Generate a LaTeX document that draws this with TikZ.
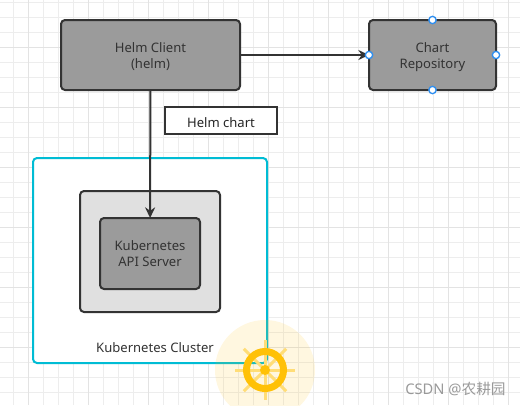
\documentclass[tikz,border=0pt]{standalone}
\usepackage{fontspec}
\setmainfont{Noto Sans}
\newfontfamily\cjkfont{Noto Sans CJK SC}
\usetikzlibrary{positioning,arrows.meta}
\definecolor{inkgray}{HTML}{333333}
\definecolor{boxgray}{HTML}{9B9B9B}
\definecolor{panelgray}{HTML}{E0E0E0}
\definecolor{clustercyan}{HTML}{00BCD4}
\definecolor{wheelgold}{HTML}{FFC107}
\definecolor{handleblue}{HTML}{2F8FF0}
\newcommand{\nudged}[1]{\raisebox{-1.2pt}[\height][\depth]{#1}}

\begin{document}
\begin{tikzpicture}[
    x=0.75pt,
    y=-0.75pt,
    >=Stealth,
    font=\fontsize{9.8pt}{12pt}\selectfont,
    line width=1.5pt,
    block/.style={
        draw=inkgray,
        fill=boxgray,
        rounded corners=3pt,
        text=inkgray,
        outer sep=0pt,
        align=center
    },
    flow/.style={draw=inkgray, ->, >={Stealth[length=8pt,width=7.5pt]}},
    gridminor/.style={draw=black!7, line width=0.75pt},
    gridmajor/.style={draw=black!11, line width=0.75pt},
    handle/.style={circle, draw=handleblue, fill=white, line width=1pt,
                   minimum size=5.5pt, inner sep=0pt}
]
\useasboundingbox (0,0) rectangle (520,405);
\clip (0,0) rectangle (520,405);
\fill[white] (0,0) rectangle (520,405);

% Grid paper
\foreach \gx in {13,28,...,520} \draw[gridminor] (\gx,0) -- (\gx,405);
\foreach \gy in {2,17,...,405} \draw[gridminor] (0,\gy) -- (520,\gy);
\foreach \gx in {28,88,...,520} \draw[gridmajor] (\gx,0) -- (\gx,405);
\foreach \gy in {47,107,...,405} \draw[gridmajor] (0,\gy) -- (520,\gy);

\node[block, minimum width=134.25pt, minimum height=52.5pt] (client) at (150.5,55) {\nudged{Helm Client}\\\nudged{(helm)}};
\node[block, minimum width=95.25pt, minimum height=52.5pt, right=96.75pt of client] (repo) {\nudged{Chart}\\\nudged{Repository}};

\node[draw=clustercyan, fill=white, rounded corners=3pt, outer sep=0pt,
    minimum width=175.5pt, minimum height=153.75pt] (cluster) at (150,260.5) {};
\node[block, fill=panelgray, minimum width=105pt, minimum height=90.75pt] (panel) at (150,251.5) {};
\node[block, minimum width=75pt, minimum height=53.25pt] (api) at (150,253.5) {Kubernetes\\API Server};
\node[text=inkgray] (clusterlabel) at (155,348) {Kubernetes Cluster};

\node[draw=inkgray, fill=white, outer sep=0pt, text=black!85,
    minimum width=84pt, minimum height=20.25pt] (chart) at (221,120.5) {\nudged{Helm chart}};

\draw[flow] (client) -- (repo);
\draw[flow] (client) -- (api);

% Selection handles
\node[handle] (htop) at (repo.north) {};
\node[handle] (hbottom) at (repo.south) {};
\node[handle] (hleft) at (repo.west) {};
\node[handle] (hright) at (repo.east) {};

% Wheel badge
\coordinate (wheel) at (265,370);
\fill[wheelgold, opacity=0.12] (wheel) circle [radius=50];
\foreach \spoke in {0,45,...,315}
    \draw[wheelgold!55, line width=2.25pt] (wheel) -- ++(\spoke:30);
\draw[wheelgold, line width=5.25pt] (wheel) circle [radius=18.5];
\fill[wheelgold] (wheel) circle [radius=5];

\node[text=black!40, font=\fontsize{11pt}{12pt}\selectfont] (mark) at (455.5,389) {CSDN @{\cjkfont 农耕园}};
\end{tikzpicture}
\end{document}
